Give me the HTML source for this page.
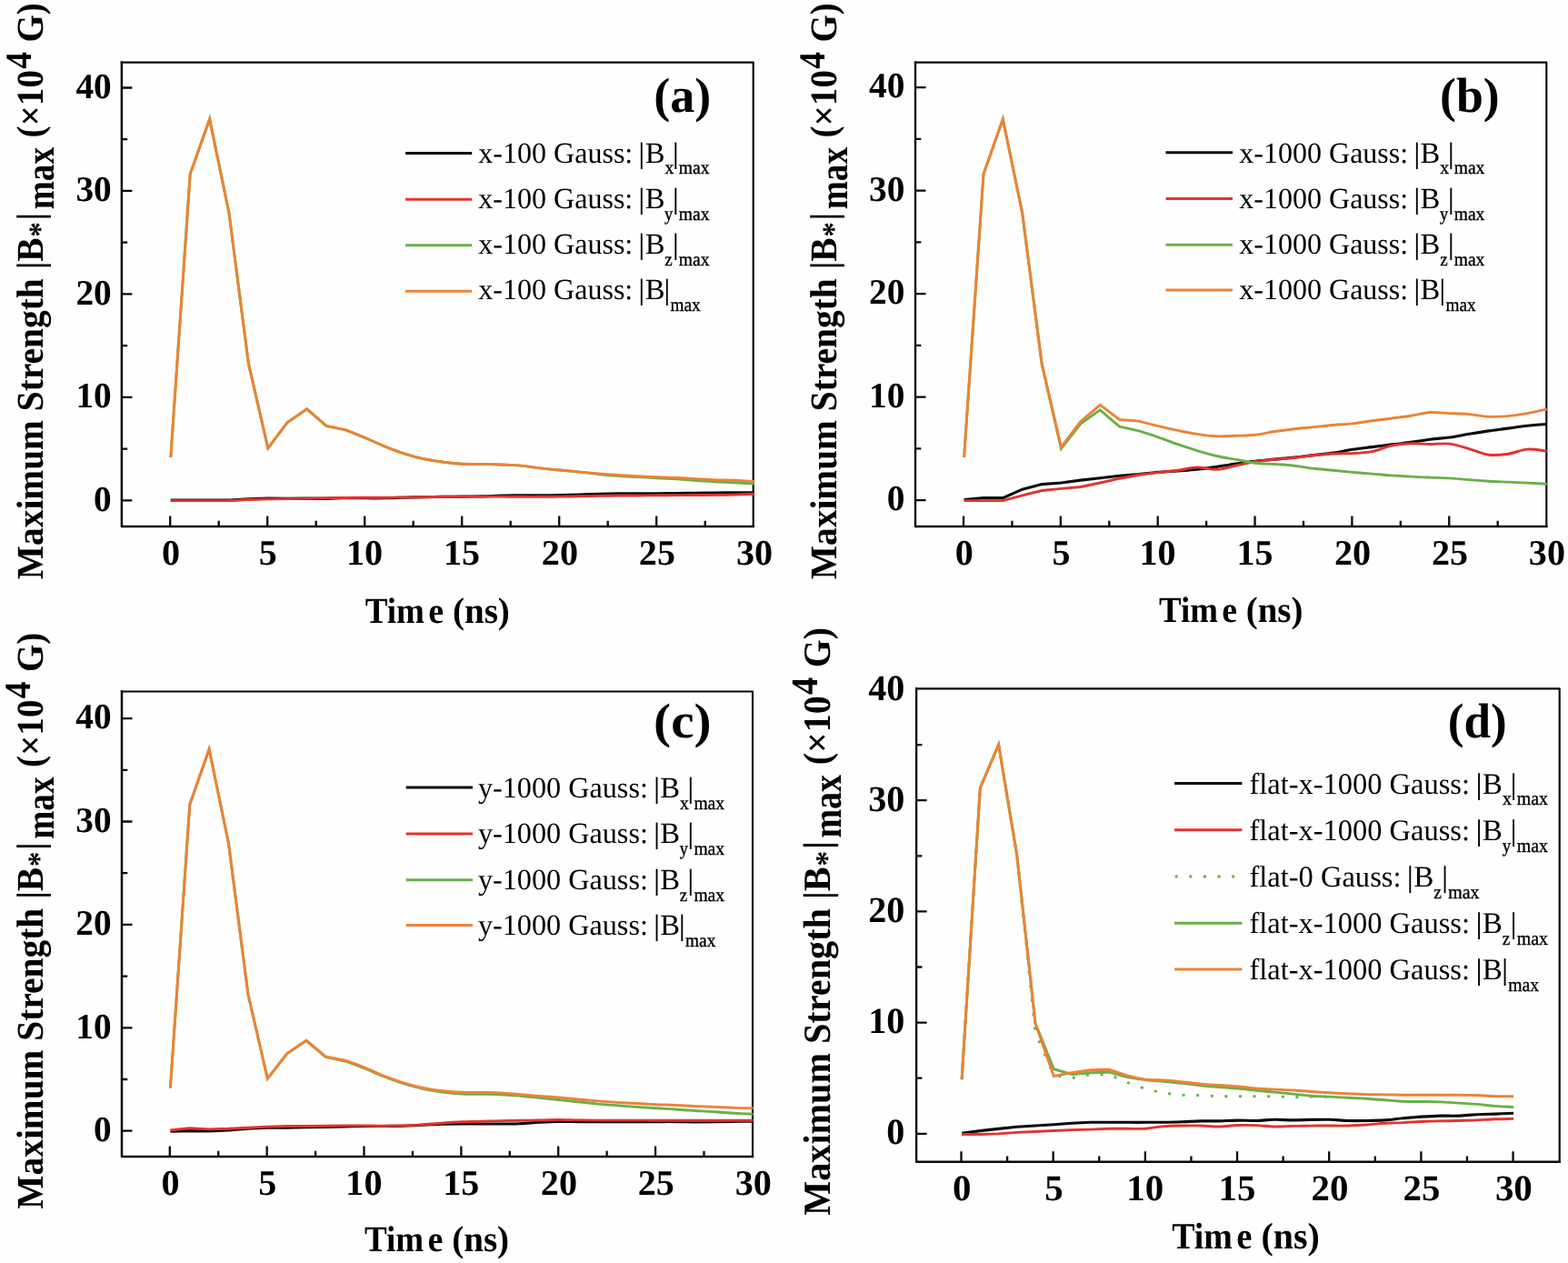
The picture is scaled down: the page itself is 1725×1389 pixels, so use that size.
<!DOCTYPE html>
<html lang="en"><head><meta charset="utf-8">
<title>Maximum magnetic field strength vs time</title>
<style>html,body{margin:0;padding:0;background:#fefefe;overflow:hidden}body{width:1725px;height:1389px}svg text{white-space:pre}</style>
</head><body>
<svg width="1725" height="1389" viewBox="0 0 1725 1389" style="display:block;filter:blur(0.45px)" text-rendering="geometricPrecision">
<rect width="1725" height="1389" fill="#fefefe"/>
<g id="panel-a">
<path d="M133.90,68.60H828.70V579.00" fill="none" stroke="#0a0a0a" stroke-width="2.15" stroke-linejoin="round" stroke-linecap="square"/>
<path d="M133.90,68.60V579.00H828.70" fill="none" stroke="#0a0a0a" stroke-width="2.5" stroke-linejoin="round" stroke-linecap="square"/>
<path d="M187.20,579.00v-11.5M294.20,579.00v-11.5M401.20,579.00v-11.5M508.20,579.00v-11.5M615.20,579.00v-11.5M722.20,579.00v-11.5M240.70,579.00v-6.3M347.70,579.00v-6.3M454.70,579.00v-6.3M561.70,579.00v-6.3M668.70,579.00v-6.3M775.70,579.00v-6.3M133.90,550.30h11.5M133.90,436.85h11.5M133.90,323.40h11.5M133.90,209.95h11.5M133.90,96.50h11.5M133.90,493.57h6.3M133.90,380.12h6.3M133.90,266.67h6.3M133.90,153.22h6.3" fill="none" stroke="#0a0a0a" stroke-width="2.3"/>
<path d="M187.8,550.1L209.2,550.1L230.6,550.1L252.0,550.1L273.4,548.9L294.8,548.1L316.2,548.4L337.6,548.1L359.0,548.4L380.4,547.5C380.4,547.5 394.7,547.7 401.8,547.8C408.9,547.9 416.1,547.9 423.2,547.8C430.3,547.7 437.5,547.4 444.6,547.2C451.7,547.0 458.9,546.8 466.0,546.7C473.1,546.5 480.3,546.4 487.4,546.3C494.5,546.2 501.7,546.2 508.8,546.1C515.9,546.0 523.1,546.1 530.2,545.9C537.3,545.7 544.5,545.2 551.6,545.0C558.7,544.8 565.9,544.8 573.0,544.7C580.1,544.7 587.3,544.8 594.4,544.7C601.5,544.7 608.7,544.7 615.8,544.6C622.9,544.5 630.1,544.3 637.2,544.1C644.3,543.8 651.5,543.5 658.6,543.3C665.7,543.1 672.9,543.0 680.0,542.9C687.1,542.8 694.3,542.7 701.4,542.7C708.5,542.7 715.7,542.7 722.8,542.7C729.9,542.7 737.1,542.6 744.2,542.5C751.3,542.4 758.5,542.3 765.6,542.2C772.7,542.2 779.9,542.1 787.0,542.0C794.1,541.9 801.3,541.8 808.4,541.8C815.5,541.8 826.2,541.8 829.8,541.8" fill="none" stroke="#0a0a0a" stroke-width="3.1" stroke-linejoin="miter" stroke-miterlimit="6" stroke-linecap="butt"/>
<path d="M187.8,550.6L209.2,550.6L230.6,550.6L252.0,550.6L273.4,549.5L294.8,548.9L316.2,548.6L337.6,548.4L359.0,547.8L380.4,547.5C380.4,547.5 394.7,547.3 401.8,547.2C408.9,547.2 416.1,547.3 423.2,547.2C430.3,547.2 437.5,547.1 444.6,547.0C451.7,546.9 458.9,546.8 466.0,546.7C473.1,546.6 480.3,546.4 487.4,546.3C494.5,546.2 501.7,546.1 508.8,546.1C515.9,546.1 523.1,546.1 530.2,546.1C537.3,546.1 544.5,546.1 551.6,546.1C558.7,546.1 565.9,546.3 573.0,546.3C580.1,546.4 587.3,546.4 594.4,546.3C601.5,546.3 608.7,546.2 615.8,546.1C622.9,546.0 630.1,545.9 637.2,545.8C644.3,545.6 651.5,545.6 658.6,545.4C665.7,545.3 672.9,545.0 680.0,545.0C687.1,544.9 694.3,545.0 701.4,545.0C708.5,544.9 715.7,544.8 722.8,544.7C729.9,544.7 737.1,544.7 744.2,544.6C751.3,544.6 758.5,544.6 765.6,544.5C772.7,544.5 779.9,544.5 787.0,544.4C794.1,544.3 801.3,544.3 808.4,544.1C815.5,543.9 826.2,543.4 829.8,543.3" fill="none" stroke="#e4322f" stroke-width="2.9" stroke-linejoin="miter" stroke-miterlimit="6" stroke-linecap="butt"/>
<path d="M187.8,503.0L209.2,191.5L230.6,130.9L252.0,234.5L273.4,399.9L294.8,492.9L316.2,464.5L337.6,449.8L359.0,468.3L380.4,472.8C380.4,472.8 394.7,478.5 401.8,481.5C408.9,484.5 416.1,488.0 423.2,490.9C430.3,493.8 437.5,496.6 444.6,498.9C451.7,501.2 458.9,503.2 466.0,504.7C473.1,506.3 480.3,507.2 487.4,508.1C494.5,509.1 501.7,509.9 508.8,510.3C515.9,510.7 523.1,510.3 530.2,510.4C537.3,510.5 544.5,510.7 551.6,511.0C558.7,511.3 565.9,511.5 573.0,512.1C580.1,512.8 587.3,514.1 594.4,514.9C601.5,515.8 608.7,516.3 615.8,517.0C622.9,517.7 630.1,518.4 637.2,519.1C644.3,519.9 651.5,520.8 658.6,521.5C665.7,522.2 672.9,522.9 680.0,523.4C687.1,524.0 694.3,524.2 701.4,524.6C708.5,525.0 715.7,525.3 722.8,525.7C729.9,526.1 737.1,526.4 744.2,526.8C751.3,527.3 758.5,528.1 765.6,528.5C772.7,529.0 779.9,529.3 787.0,529.7C794.1,530.1 801.3,530.4 808.4,530.8C815.5,531.2 826.2,531.7 829.8,531.9" fill="none" stroke="#69b047" stroke-width="2.9" stroke-linejoin="miter" stroke-miterlimit="6" stroke-linecap="butt"/>
<path d="M187.8,503.0L209.2,191.5L230.6,130.9L252.0,234.5L273.4,399.9L294.8,492.9L316.2,464.5L337.6,449.8L359.0,468.3L380.4,472.8C380.4,472.8 394.7,478.5 401.8,481.5C408.9,484.5 416.1,488.0 423.2,490.9C430.3,493.8 437.5,496.6 444.6,498.9C451.7,501.2 458.9,503.2 466.0,504.7C473.1,506.3 480.3,507.2 487.4,508.1C494.5,509.1 501.7,509.9 508.8,510.3C515.9,510.7 523.1,510.3 530.2,510.4C537.3,510.5 544.5,510.7 551.6,511.0C558.7,511.3 565.9,511.5 573.0,512.1C580.1,512.8 587.3,514.1 594.4,514.9C601.5,515.8 608.7,516.3 615.8,517.0C622.9,517.6 630.1,518.2 637.2,518.9C644.3,519.6 651.5,520.3 658.6,520.9C665.7,521.6 672.9,522.1 680.0,522.5C687.1,523.0 694.3,523.3 701.4,523.7C708.5,524.0 715.7,524.3 722.8,524.6C729.9,524.9 737.1,525.1 744.2,525.5C751.3,525.8 758.5,526.2 765.6,526.6C772.7,527.0 779.9,527.5 787.0,527.7C794.1,528.0 801.3,528.0 808.4,528.3C815.5,528.6 826.2,529.3 829.8,529.4" fill="none" stroke="#ec8336" stroke-width="2.9" stroke-linejoin="miter" stroke-miterlimit="6" stroke-linecap="butt"/>
<text x="177.98" y="620.80" font-size="39.3" font-family='"Liberation Serif", serif' font-weight="bold" fill="#000" textLength="20.04" lengthAdjust="spacingAndGlyphs">0</text>
<text x="284.88" y="620.80" font-size="39.3" font-family='"Liberation Serif", serif' font-weight="bold" fill="#000" textLength="20.04" lengthAdjust="spacingAndGlyphs">5</text>
<text x="381.06" y="620.80" font-size="39.3" font-family='"Liberation Serif", serif' font-weight="bold" fill="#000" textLength="40.09" lengthAdjust="spacingAndGlyphs">10</text>
<text x="488.06" y="620.80" font-size="39.3" font-family='"Liberation Serif", serif' font-weight="bold" fill="#000" textLength="40.09" lengthAdjust="spacingAndGlyphs">15</text>
<text x="595.86" y="620.80" font-size="39.3" font-family='"Liberation Serif", serif' font-weight="bold" fill="#000" textLength="40.09" lengthAdjust="spacingAndGlyphs">20</text>
<text x="702.86" y="620.80" font-size="39.3" font-family='"Liberation Serif", serif' font-weight="bold" fill="#000" textLength="40.09" lengthAdjust="spacingAndGlyphs">25</text>
<text x="809.96" y="620.80" font-size="39.3" font-family='"Liberation Serif", serif' font-weight="bold" fill="#000" textLength="40.09" lengthAdjust="spacingAndGlyphs">30</text>
<text x="103.03" y="561.50" font-size="39.3" font-family='"Liberation Serif", serif' font-weight="bold" fill="#000" textLength="19.65" lengthAdjust="spacingAndGlyphs">0</text>
<text x="83.38" y="448.05" font-size="39.3" font-family='"Liberation Serif", serif' font-weight="bold" fill="#000" textLength="39.30" lengthAdjust="spacingAndGlyphs">10</text>
<text x="83.38" y="334.60" font-size="39.3" font-family='"Liberation Serif", serif' font-weight="bold" fill="#000" textLength="39.30" lengthAdjust="spacingAndGlyphs">20</text>
<text x="83.38" y="221.15" font-size="39.3" font-family='"Liberation Serif", serif' font-weight="bold" fill="#000" textLength="39.30" lengthAdjust="spacingAndGlyphs">30</text>
<text x="83.38" y="107.70" font-size="39.3" font-family='"Liberation Serif", serif' font-weight="bold" fill="#000" textLength="39.30" lengthAdjust="spacingAndGlyphs">40</text>
<text x="401.74" y="684.50" font-size="40" font-family='"Liberation Serif", serif' font-weight="bold" fill="#000" textLength="65.20" lengthAdjust="spacingAndGlyphs">Tim</text>
<text x="471.25" y="684.50" font-size="40" font-family='"Liberation Serif", serif' font-weight="bold" fill="#000" textLength="16.86" lengthAdjust="spacingAndGlyphs">e</text>
<text x="497.94" y="684.50" font-size="40" font-family='"Liberation Serif", serif' font-weight="bold" fill="#000" textLength="62.88" lengthAdjust="spacingAndGlyphs">(ns)</text>
<g transform="translate(47.40,637.00) rotate(-90)">
<text x="-0.19" y="0.00" font-size="41.5" font-family='"Liberation Serif", serif' font-weight="bold" fill="#000" textLength="375.79" lengthAdjust="spacingAndGlyphs">Maximum Strength |B</text>
<text x="376.17" y="7.40" font-size="34.0" font-family='"Liberation Serif", serif' font-weight="bold" fill="#000" textLength="16.67" lengthAdjust="spacingAndGlyphs">*</text>
<text x="394.50" y="0.00" font-size="41.5" font-family='"Liberation Serif", serif' font-weight="bold" fill="#000" textLength="8.81" lengthAdjust="spacingAndGlyphs">|</text>
<text x="406.77" y="11.80" font-size="44.0" font-family='"Liberation Serif", serif' font-weight="bold" fill="#000" textLength="68.35" lengthAdjust="spacingAndGlyphs">max</text>
<text x="485.43" y="0.00" font-size="41.5" font-family='"Liberation Serif", serif' font-weight="bold" fill="#000" textLength="74.56" lengthAdjust="spacingAndGlyphs">(×10</text>
<text x="561.33" y="-13.80" font-size="40.5" font-family='"Liberation Serif", serif' font-weight="bold" fill="#000" textLength="18.74" lengthAdjust="spacingAndGlyphs">4</text>
<text x="590.55" y="0.00" font-size="41.5" font-family='"Liberation Serif", serif' font-weight="bold" fill="#000" textLength="43.13" lengthAdjust="spacingAndGlyphs">G)</text>
</g>
<text x="719.24" y="123.30" font-size="54" font-family='"Liberation Serif", serif' font-weight="bold" fill="#000" textLength="62.98" lengthAdjust="spacingAndGlyphs">(a)</text>
<line x1="446.1" y1="168.6" x2="519.2" y2="168.6" stroke="#0a0a0a" stroke-width="3"/>
<text x="526.34" y="178.60" font-size="32.3" font-family='"Liberation Serif", serif' font-weight="normal" fill="#000" textLength="169.93" lengthAdjust="spacingAndGlyphs">x-100 Gauss:</text>
<text x="702.10" y="178.60" font-size="32.3" font-family='"Liberation Serif", serif' font-weight="normal" fill="#000" textLength="7.61" lengthAdjust="spacingAndGlyphs">|</text>
<text x="709.68" y="178.60" font-size="32.3" font-family='"Liberation Serif", serif' font-weight="normal" fill="#000" textLength="21.75" lengthAdjust="spacingAndGlyphs">B</text>
<text x="731.40" y="191.30" font-size="20.8" font-family='"Liberation Serif", serif' font-weight="normal" fill="#000" textLength="9.79" lengthAdjust="spacingAndGlyphs" stroke="#000" stroke-width="0.35">x</text>
<text x="739.50" y="178.60" font-size="32.3" font-family='"Liberation Serif", serif' font-weight="normal" fill="#000" textLength="7.61" lengthAdjust="spacingAndGlyphs">|</text>
<text x="746.81" y="191.30" font-size="20.8" font-family='"Liberation Serif", serif' font-weight="normal" fill="#000" textLength="33.62" lengthAdjust="spacingAndGlyphs" stroke="#000" stroke-width="0.35">max</text>
<line x1="446.1" y1="219.2" x2="519.2" y2="219.2" stroke="#e4322f" stroke-width="3"/>
<text x="526.34" y="228.80" font-size="32.3" font-family='"Liberation Serif", serif' font-weight="normal" fill="#000" textLength="169.93" lengthAdjust="spacingAndGlyphs">x-100 Gauss:</text>
<text x="702.10" y="228.80" font-size="32.3" font-family='"Liberation Serif", serif' font-weight="normal" fill="#000" textLength="7.61" lengthAdjust="spacingAndGlyphs">|</text>
<text x="709.68" y="228.80" font-size="32.3" font-family='"Liberation Serif", serif' font-weight="normal" fill="#000" textLength="21.75" lengthAdjust="spacingAndGlyphs">B</text>
<text x="731.12" y="241.50" font-size="20.8" font-family='"Liberation Serif", serif' font-weight="normal" fill="#000" textLength="9.18" lengthAdjust="spacingAndGlyphs" stroke="#000" stroke-width="0.35">y</text>
<text x="739.50" y="228.80" font-size="32.3" font-family='"Liberation Serif", serif' font-weight="normal" fill="#000" textLength="7.61" lengthAdjust="spacingAndGlyphs">|</text>
<text x="746.81" y="241.50" font-size="20.8" font-family='"Liberation Serif", serif' font-weight="normal" fill="#000" textLength="33.62" lengthAdjust="spacingAndGlyphs" stroke="#000" stroke-width="0.35">max</text>
<line x1="446.1" y1="269.8" x2="519.2" y2="269.8" stroke="#69b047" stroke-width="3"/>
<text x="526.34" y="279.00" font-size="32.3" font-family='"Liberation Serif", serif' font-weight="normal" fill="#000" textLength="169.93" lengthAdjust="spacingAndGlyphs">x-100 Gauss:</text>
<text x="702.10" y="279.00" font-size="32.3" font-family='"Liberation Serif", serif' font-weight="normal" fill="#000" textLength="7.61" lengthAdjust="spacingAndGlyphs">|</text>
<text x="709.68" y="279.00" font-size="32.3" font-family='"Liberation Serif", serif' font-weight="normal" fill="#000" textLength="21.75" lengthAdjust="spacingAndGlyphs">B</text>
<text x="731.23" y="291.70" font-size="20.8" font-family='"Liberation Serif", serif' font-weight="normal" fill="#000" textLength="8.43" lengthAdjust="spacingAndGlyphs" stroke="#000" stroke-width="0.35">z</text>
<text x="739.50" y="279.00" font-size="32.3" font-family='"Liberation Serif", serif' font-weight="normal" fill="#000" textLength="7.61" lengthAdjust="spacingAndGlyphs">|</text>
<text x="746.81" y="291.70" font-size="20.8" font-family='"Liberation Serif", serif' font-weight="normal" fill="#000" textLength="33.62" lengthAdjust="spacingAndGlyphs" stroke="#000" stroke-width="0.35">max</text>
<line x1="446.1" y1="320.2" x2="519.2" y2="320.2" stroke="#ec8336" stroke-width="3"/>
<text x="526.34" y="329.20" font-size="32.3" font-family='"Liberation Serif", serif' font-weight="normal" fill="#000" textLength="169.93" lengthAdjust="spacingAndGlyphs">x-100 Gauss:</text>
<text x="702.10" y="329.20" font-size="32.3" font-family='"Liberation Serif", serif' font-weight="normal" fill="#000" textLength="7.61" lengthAdjust="spacingAndGlyphs">|</text>
<text x="709.68" y="329.20" font-size="32.3" font-family='"Liberation Serif", serif' font-weight="normal" fill="#000" textLength="21.75" lengthAdjust="spacingAndGlyphs">B</text>
<text x="730.00" y="329.20" font-size="32.3" font-family='"Liberation Serif", serif' font-weight="normal" fill="#000" textLength="7.61" lengthAdjust="spacingAndGlyphs">|</text>
<text x="737.51" y="341.90" font-size="20.8" font-family='"Liberation Serif", serif' font-weight="normal" fill="#000" textLength="33.21" lengthAdjust="spacingAndGlyphs" stroke="#000" stroke-width="0.35">max</text>
</g>
<g id="panel-b">
<path d="M1007.00,68.60H1701.30V579.00" fill="none" stroke="#0a0a0a" stroke-width="2.15" stroke-linejoin="round" stroke-linecap="square"/>
<path d="M1007.00,68.60V579.00H1701.30" fill="none" stroke="#0a0a0a" stroke-width="2.4" stroke-linejoin="round" stroke-linecap="square"/>
<path d="M1060.00,579.00v-11.5M1166.85,579.00v-11.5M1273.70,579.00v-11.5M1380.55,579.00v-11.5M1487.40,579.00v-11.5M1594.25,579.00v-11.5M1113.42,579.00v-6.3M1220.28,579.00v-6.3M1327.12,579.00v-6.3M1433.97,579.00v-6.3M1540.83,579.00v-6.3M1647.68,579.00v-6.3M1007.00,550.20h11.5M1007.00,436.70h11.5M1007.00,323.20h11.5M1007.00,209.70h11.5M1007.00,96.20h11.5M1007.00,493.45h6.3M1007.00,379.95h6.3M1007.00,266.45h6.3M1007.00,152.95h6.3" fill="none" stroke="#0a0a0a" stroke-width="2.3"/>
<path d="M1060.6,549.5L1082.0,547.6L1103.3,547.6L1124.7,538.2L1146.1,532.6L1167.4,531.0L1188.8,528.1L1210.2,525.7L1231.6,523.2L1252.9,521.6C1252.9,521.6 1267.2,519.9 1274.3,519.2C1281.4,518.6 1288.5,518.4 1295.7,517.9C1302.8,517.4 1309.9,517.1 1317.0,516.3C1324.2,515.5 1331.3,514.4 1338.4,513.4C1345.5,512.3 1352.7,511.0 1359.8,510.0C1366.9,508.9 1374.0,508.1 1381.1,507.2C1388.3,506.4 1395.4,505.8 1402.5,505.1C1409.6,504.4 1416.8,503.8 1423.9,503.0C1431.0,502.3 1438.1,501.4 1445.3,500.6C1452.4,499.7 1459.5,499.1 1466.6,498.1C1473.8,497.0 1480.9,495.4 1488.0,494.3C1495.1,493.2 1502.2,492.5 1509.4,491.6C1516.5,490.7 1523.6,489.8 1530.7,488.9C1537.9,488.0 1545.0,487.3 1552.1,486.4C1559.2,485.4 1566.4,484.1 1573.5,483.2C1580.6,482.3 1587.7,481.9 1594.8,481.0C1602.0,480.0 1609.1,478.5 1616.2,477.3C1623.3,476.2 1630.5,475.0 1637.6,473.9C1644.7,472.9 1651.8,472.1 1659.0,471.1C1666.1,470.1 1673.2,468.9 1680.3,468.2C1687.5,467.4 1698.1,466.7 1701.7,466.5" fill="none" stroke="#0a0a0a" stroke-width="3.1" stroke-linejoin="miter" stroke-miterlimit="6" stroke-linecap="butt"/>
<path d="M1060.6,550.6L1082.0,550.6L1103.3,550.6L1124.7,544.9L1146.1,539.5L1167.4,537.4L1188.8,535.5L1210.2,531.0L1231.6,526.2L1252.9,522.2C1252.9,522.2 1267.2,520.4 1274.3,519.6C1281.4,518.8 1288.5,518.3 1295.7,517.3C1302.8,516.4 1309.9,514.1 1317.0,513.9C1324.2,513.8 1331.3,516.6 1338.4,516.3C1345.5,516.0 1352.7,513.5 1359.8,512.0C1366.9,510.5 1374.0,508.7 1381.1,507.6C1388.3,506.5 1395.4,506.0 1402.5,505.3C1409.6,504.6 1416.8,504.3 1423.9,503.5C1431.0,502.7 1438.1,501.5 1445.3,500.8C1452.4,500.0 1459.5,499.3 1466.6,499.0C1473.8,498.6 1480.9,499.0 1488.0,498.6C1495.1,498.3 1502.2,498.1 1509.4,496.7C1516.5,495.3 1523.6,491.6 1530.7,490.1C1537.9,488.6 1545.0,488.0 1552.1,487.8C1559.2,487.5 1566.4,488.5 1573.5,488.5C1580.6,488.6 1587.7,487.2 1594.8,488.1C1602.0,488.9 1609.1,491.6 1616.2,493.6C1623.3,495.7 1630.5,499.3 1637.6,500.2C1644.7,501.1 1651.8,500.2 1659.0,499.2C1666.1,498.2 1673.2,494.6 1680.3,494.1C1687.5,493.6 1698.1,495.8 1701.7,496.1" fill="none" stroke="#e4322f" stroke-width="2.9" stroke-linejoin="miter" stroke-miterlimit="6" stroke-linecap="butt"/>
<path d="M1060.6,503.0L1082.0,191.5L1103.3,130.9L1124.7,234.5L1146.1,399.9L1167.4,493.4L1188.8,466.0L1210.2,450.9L1231.6,469.1L1252.9,473.9C1252.9,473.9 1267.2,478.4 1274.3,480.8C1281.4,483.3 1288.5,486.2 1295.7,488.7C1302.8,491.1 1309.9,493.4 1317.0,495.6C1324.2,497.7 1331.3,499.8 1338.4,501.5C1345.5,503.1 1352.7,504.1 1359.8,505.4C1366.9,506.7 1374.0,508.4 1381.1,509.3C1388.3,510.1 1395.4,510.0 1402.5,510.5C1409.6,511.0 1416.8,511.4 1423.9,512.2C1431.0,513.0 1438.1,514.4 1445.3,515.3C1452.4,516.1 1459.5,516.6 1466.6,517.3C1473.8,518.0 1480.9,518.7 1488.0,519.4C1495.1,520.0 1502.2,520.5 1509.4,521.1C1516.5,521.6 1523.6,522.4 1530.7,522.9C1537.9,523.4 1545.0,523.7 1552.1,524.1C1559.2,524.5 1566.4,524.8 1573.5,525.1C1580.6,525.4 1587.7,525.5 1594.8,525.9C1602.0,526.3 1609.1,527.1 1616.2,527.6C1623.3,528.2 1630.5,528.8 1637.6,529.2C1644.7,529.6 1651.8,529.8 1659.0,530.1C1666.1,530.4 1673.2,530.8 1680.3,531.1C1687.5,531.5 1698.1,532.1 1701.7,532.3" fill="none" stroke="#69b047" stroke-width="2.9" stroke-linejoin="miter" stroke-miterlimit="6" stroke-linecap="butt"/>
<path d="M1060.6,503.0L1082.0,191.5L1103.3,130.9L1124.7,234.5L1146.1,399.9L1167.4,491.7L1188.8,463.4L1210.2,445.3L1231.6,461.5L1252.9,463.1C1252.9,463.1 1267.2,466.9 1274.3,468.6C1281.4,470.3 1288.5,471.9 1295.7,473.4C1302.8,474.8 1309.9,476.4 1317.0,477.4C1324.2,478.5 1331.3,479.5 1338.4,479.8C1345.5,480.1 1352.7,479.5 1359.8,479.3C1366.9,479.0 1374.0,479.0 1381.1,478.2C1388.3,477.4 1395.4,475.6 1402.5,474.5C1409.6,473.4 1416.8,472.5 1423.9,471.7C1431.0,470.9 1438.1,470.3 1445.3,469.6C1452.4,468.9 1459.5,468.1 1466.6,467.5C1473.8,466.8 1480.9,466.7 1488.0,465.9C1495.1,465.1 1502.2,463.8 1509.4,462.8C1516.5,461.9 1523.6,461.0 1530.7,460.1C1537.9,459.2 1545.0,458.4 1552.1,457.3C1559.2,456.2 1566.4,454.0 1573.5,453.5C1580.6,453.1 1587.7,454.2 1594.8,454.6C1602.0,454.9 1609.1,455.0 1616.2,455.6C1623.3,456.2 1630.5,458.0 1637.6,458.3C1644.7,458.6 1651.8,458.2 1659.0,457.6C1666.1,457.0 1673.2,455.8 1680.3,454.6C1687.5,453.3 1698.1,450.8 1701.7,450.0" fill="none" stroke="#ec8336" stroke-width="2.9" stroke-linejoin="miter" stroke-miterlimit="6" stroke-linecap="butt"/>
<text x="1050.78" y="620.70" font-size="39.3" font-family='"Liberation Serif", serif' font-weight="bold" fill="#000" textLength="20.04" lengthAdjust="spacingAndGlyphs">0</text>
<text x="1157.53" y="620.70" font-size="39.3" font-family='"Liberation Serif", serif' font-weight="bold" fill="#000" textLength="20.04" lengthAdjust="spacingAndGlyphs">5</text>
<text x="1253.56" y="620.70" font-size="39.3" font-family='"Liberation Serif", serif' font-weight="bold" fill="#000" textLength="40.09" lengthAdjust="spacingAndGlyphs">10</text>
<text x="1360.41" y="620.70" font-size="39.3" font-family='"Liberation Serif", serif' font-weight="bold" fill="#000" textLength="40.09" lengthAdjust="spacingAndGlyphs">15</text>
<text x="1468.06" y="620.70" font-size="39.3" font-family='"Liberation Serif", serif' font-weight="bold" fill="#000" textLength="40.09" lengthAdjust="spacingAndGlyphs">20</text>
<text x="1574.91" y="620.70" font-size="39.3" font-family='"Liberation Serif", serif' font-weight="bold" fill="#000" textLength="40.09" lengthAdjust="spacingAndGlyphs">25</text>
<text x="1681.86" y="620.70" font-size="39.3" font-family='"Liberation Serif", serif' font-weight="bold" fill="#000" textLength="40.09" lengthAdjust="spacingAndGlyphs">30</text>
<text x="975.73" y="561.40" font-size="39.3" font-family='"Liberation Serif", serif' font-weight="bold" fill="#000" textLength="19.65" lengthAdjust="spacingAndGlyphs">0</text>
<text x="956.08" y="447.90" font-size="39.3" font-family='"Liberation Serif", serif' font-weight="bold" fill="#000" textLength="39.30" lengthAdjust="spacingAndGlyphs">10</text>
<text x="956.08" y="334.40" font-size="39.3" font-family='"Liberation Serif", serif' font-weight="bold" fill="#000" textLength="39.30" lengthAdjust="spacingAndGlyphs">20</text>
<text x="956.08" y="220.90" font-size="39.3" font-family='"Liberation Serif", serif' font-weight="bold" fill="#000" textLength="39.30" lengthAdjust="spacingAndGlyphs">30</text>
<text x="956.08" y="107.40" font-size="39.3" font-family='"Liberation Serif", serif' font-weight="bold" fill="#000" textLength="39.30" lengthAdjust="spacingAndGlyphs">40</text>
<text x="1275.05" y="684.40" font-size="40" font-family='"Liberation Serif", serif' font-weight="bold" fill="#000" textLength="64.91" lengthAdjust="spacingAndGlyphs">Tim</text>
<text x="1344.24" y="684.40" font-size="40" font-family='"Liberation Serif", serif' font-weight="bold" fill="#000" textLength="16.78" lengthAdjust="spacingAndGlyphs">e</text>
<text x="1370.81" y="684.40" font-size="40" font-family='"Liberation Serif", serif' font-weight="bold" fill="#000" textLength="62.60" lengthAdjust="spacingAndGlyphs">(ns)</text>
<g transform="translate(920.30,637.00) rotate(-90)">
<text x="-0.19" y="0.00" font-size="41.5" font-family='"Liberation Serif", serif' font-weight="bold" fill="#000" textLength="375.79" lengthAdjust="spacingAndGlyphs">Maximum Strength |B</text>
<text x="376.17" y="7.40" font-size="34.0" font-family='"Liberation Serif", serif' font-weight="bold" fill="#000" textLength="16.67" lengthAdjust="spacingAndGlyphs">*</text>
<text x="394.50" y="0.00" font-size="41.5" font-family='"Liberation Serif", serif' font-weight="bold" fill="#000" textLength="8.81" lengthAdjust="spacingAndGlyphs">|</text>
<text x="406.77" y="11.80" font-size="44.0" font-family='"Liberation Serif", serif' font-weight="bold" fill="#000" textLength="68.35" lengthAdjust="spacingAndGlyphs">max</text>
<text x="485.43" y="0.00" font-size="41.5" font-family='"Liberation Serif", serif' font-weight="bold" fill="#000" textLength="74.56" lengthAdjust="spacingAndGlyphs">(×10</text>
<text x="561.33" y="-13.80" font-size="40.5" font-family='"Liberation Serif", serif' font-weight="bold" fill="#000" textLength="18.74" lengthAdjust="spacingAndGlyphs">4</text>
<text x="590.55" y="0.00" font-size="41.5" font-family='"Liberation Serif", serif' font-weight="bold" fill="#000" textLength="43.13" lengthAdjust="spacingAndGlyphs">G)</text>
</g>
<text x="1584.05" y="123.20" font-size="54" font-family='"Liberation Serif", serif' font-weight="bold" fill="#000" textLength="65.72" lengthAdjust="spacingAndGlyphs">(b)</text>
<line x1="1282.5" y1="167.8" x2="1356.0" y2="167.8" stroke="#0a0a0a" stroke-width="3"/>
<text x="1363.34" y="178.70" font-size="32.3" font-family='"Liberation Serif", serif' font-weight="normal" fill="#000" textLength="185.83" lengthAdjust="spacingAndGlyphs">x-1000 Gauss:</text>
<text x="1555.00" y="178.70" font-size="32.3" font-family='"Liberation Serif", serif' font-weight="normal" fill="#000" textLength="7.61" lengthAdjust="spacingAndGlyphs">|</text>
<text x="1562.58" y="178.70" font-size="32.3" font-family='"Liberation Serif", serif' font-weight="normal" fill="#000" textLength="21.75" lengthAdjust="spacingAndGlyphs">B</text>
<text x="1584.30" y="191.40" font-size="20.8" font-family='"Liberation Serif", serif' font-weight="normal" fill="#000" textLength="9.79" lengthAdjust="spacingAndGlyphs" stroke="#000" stroke-width="0.35">x</text>
<text x="1592.40" y="178.70" font-size="32.3" font-family='"Liberation Serif", serif' font-weight="normal" fill="#000" textLength="7.61" lengthAdjust="spacingAndGlyphs">|</text>
<text x="1599.71" y="191.40" font-size="20.8" font-family='"Liberation Serif", serif' font-weight="normal" fill="#000" textLength="33.62" lengthAdjust="spacingAndGlyphs" stroke="#000" stroke-width="0.35">max</text>
<line x1="1282.5" y1="218.5" x2="1356.0" y2="218.5" stroke="#e4322f" stroke-width="3"/>
<text x="1363.34" y="228.80" font-size="32.3" font-family='"Liberation Serif", serif' font-weight="normal" fill="#000" textLength="185.83" lengthAdjust="spacingAndGlyphs">x-1000 Gauss:</text>
<text x="1555.00" y="228.80" font-size="32.3" font-family='"Liberation Serif", serif' font-weight="normal" fill="#000" textLength="7.61" lengthAdjust="spacingAndGlyphs">|</text>
<text x="1562.58" y="228.80" font-size="32.3" font-family='"Liberation Serif", serif' font-weight="normal" fill="#000" textLength="21.75" lengthAdjust="spacingAndGlyphs">B</text>
<text x="1584.02" y="241.50" font-size="20.8" font-family='"Liberation Serif", serif' font-weight="normal" fill="#000" textLength="9.18" lengthAdjust="spacingAndGlyphs" stroke="#000" stroke-width="0.35">y</text>
<text x="1592.40" y="228.80" font-size="32.3" font-family='"Liberation Serif", serif' font-weight="normal" fill="#000" textLength="7.61" lengthAdjust="spacingAndGlyphs">|</text>
<text x="1599.71" y="241.50" font-size="20.8" font-family='"Liberation Serif", serif' font-weight="normal" fill="#000" textLength="33.62" lengthAdjust="spacingAndGlyphs" stroke="#000" stroke-width="0.35">max</text>
<line x1="1282.5" y1="269.3" x2="1356.0" y2="269.3" stroke="#69b047" stroke-width="3"/>
<text x="1363.34" y="279.20" font-size="32.3" font-family='"Liberation Serif", serif' font-weight="normal" fill="#000" textLength="185.83" lengthAdjust="spacingAndGlyphs">x-1000 Gauss:</text>
<text x="1555.00" y="279.20" font-size="32.3" font-family='"Liberation Serif", serif' font-weight="normal" fill="#000" textLength="7.61" lengthAdjust="spacingAndGlyphs">|</text>
<text x="1562.58" y="279.20" font-size="32.3" font-family='"Liberation Serif", serif' font-weight="normal" fill="#000" textLength="21.75" lengthAdjust="spacingAndGlyphs">B</text>
<text x="1584.13" y="291.90" font-size="20.8" font-family='"Liberation Serif", serif' font-weight="normal" fill="#000" textLength="8.43" lengthAdjust="spacingAndGlyphs" stroke="#000" stroke-width="0.35">z</text>
<text x="1592.40" y="279.20" font-size="32.3" font-family='"Liberation Serif", serif' font-weight="normal" fill="#000" textLength="7.61" lengthAdjust="spacingAndGlyphs">|</text>
<text x="1599.71" y="291.90" font-size="20.8" font-family='"Liberation Serif", serif' font-weight="normal" fill="#000" textLength="33.62" lengthAdjust="spacingAndGlyphs" stroke="#000" stroke-width="0.35">max</text>
<line x1="1282.5" y1="318.9" x2="1356.0" y2="318.9" stroke="#ec8336" stroke-width="3"/>
<text x="1363.34" y="329.20" font-size="32.3" font-family='"Liberation Serif", serif' font-weight="normal" fill="#000" textLength="185.83" lengthAdjust="spacingAndGlyphs">x-1000 Gauss:</text>
<text x="1555.00" y="329.20" font-size="32.3" font-family='"Liberation Serif", serif' font-weight="normal" fill="#000" textLength="7.61" lengthAdjust="spacingAndGlyphs">|</text>
<text x="1562.58" y="329.20" font-size="32.3" font-family='"Liberation Serif", serif' font-weight="normal" fill="#000" textLength="21.75" lengthAdjust="spacingAndGlyphs">B</text>
<text x="1582.90" y="329.20" font-size="32.3" font-family='"Liberation Serif", serif' font-weight="normal" fill="#000" textLength="7.61" lengthAdjust="spacingAndGlyphs">|</text>
<text x="1590.41" y="341.90" font-size="20.8" font-family='"Liberation Serif", serif' font-weight="normal" fill="#000" textLength="33.21" lengthAdjust="spacingAndGlyphs" stroke="#000" stroke-width="0.35">max</text>
</g>
<g id="panel-c">
<path d="M134.00,760.50H828.00V1272.00" fill="none" stroke="#0a0a0a" stroke-width="2.15" stroke-linejoin="round" stroke-linecap="square"/>
<path d="M134.00,760.50V1272.00H828.00" fill="none" stroke="#0a0a0a" stroke-width="2.5" stroke-linejoin="round" stroke-linecap="square"/>
<path d="M186.80,1272.00v-11.5M293.65,1272.00v-11.5M400.50,1272.00v-11.5M507.35,1272.00v-11.5M614.20,1272.00v-11.5M721.05,1272.00v-11.5M240.23,1272.00v-6.3M347.08,1272.00v-6.3M453.93,1272.00v-6.3M560.78,1272.00v-6.3M667.62,1272.00v-6.3M774.48,1272.00v-6.3M134.00,1243.70h11.5M134.00,1130.30h11.5M134.00,1016.90h11.5M134.00,903.50h11.5M134.00,790.10h11.5M134.00,1187.00h6.3M134.00,1073.60h6.3M134.00,960.20h6.3M134.00,846.80h6.3" fill="none" stroke="#0a0a0a" stroke-width="2.3"/>
<path d="M187.4,1244.1L208.8,1243.6L230.1,1243.9L251.5,1243.0L272.9,1241.3L294.3,1240.2L315.6,1240.2L337.0,1239.8L358.4,1239.4L379.7,1238.9C379.7,1238.9 394.0,1238.5 401.1,1238.5C408.2,1238.4 415.3,1238.5 422.5,1238.5C429.6,1238.4 436.7,1238.4 443.8,1238.2C451.0,1238.0 458.1,1237.7 465.2,1237.3C472.3,1237.0 479.5,1236.4 486.6,1236.2C493.7,1236.0 500.8,1236.0 508.0,1236.0C515.1,1235.9 522.2,1236.0 529.3,1236.0C536.4,1236.0 543.6,1236.0 550.7,1236.0C557.8,1235.9 564.9,1236.0 572.1,1235.7C579.2,1235.4 586.3,1234.6 593.4,1234.2C600.6,1233.8 607.7,1233.4 614.8,1233.4C621.9,1233.3 629.0,1233.6 636.2,1233.7C643.3,1233.8 650.4,1233.7 657.5,1233.7C664.7,1233.7 671.8,1233.7 678.9,1233.7C686.0,1233.7 693.2,1233.6 700.3,1233.6C707.4,1233.6 714.5,1233.6 721.6,1233.6C728.8,1233.6 735.9,1233.5 743.0,1233.6C750.1,1233.6 757.3,1233.9 764.4,1233.9C771.5,1233.9 778.6,1233.8 785.8,1233.7C792.9,1233.6 800.0,1233.5 807.1,1233.4C814.3,1233.3 824.9,1233.2 828.5,1233.1" fill="none" stroke="#0a0a0a" stroke-width="3.1" stroke-linejoin="miter" stroke-miterlimit="6" stroke-linecap="butt"/>
<path d="M187.4,1243.0L208.8,1240.7L230.1,1241.9L251.5,1241.3L272.9,1240.2L294.3,1239.1L315.6,1238.5L337.0,1238.5L358.4,1238.2L379.7,1237.9C379.7,1237.9 394.0,1237.8 401.1,1237.9C408.2,1238.0 415.3,1238.2 422.5,1238.2C429.6,1238.2 436.7,1238.1 443.8,1237.9C451.0,1237.7 458.1,1237.2 465.2,1236.8C472.3,1236.3 479.5,1235.6 486.6,1235.1C493.7,1234.6 500.8,1234.1 508.0,1233.8C515.1,1233.5 522.2,1233.5 529.3,1233.2C536.4,1233.0 543.6,1232.7 550.7,1232.6C557.8,1232.4 564.9,1232.3 572.1,1232.2C579.2,1232.1 586.3,1232.1 593.4,1232.0C600.6,1231.9 607.7,1231.5 614.8,1231.4C621.9,1231.4 629.0,1231.8 636.2,1231.9C643.3,1232.0 650.4,1232.1 657.5,1232.1C664.7,1232.2 671.8,1232.1 678.9,1232.1C686.0,1232.1 693.2,1232.1 700.3,1232.1C707.4,1232.1 714.5,1232.2 721.6,1232.2C728.8,1232.2 735.9,1232.2 743.0,1232.2C750.1,1232.2 757.3,1232.2 764.4,1232.2C771.5,1232.2 778.6,1232.2 785.8,1232.2C792.9,1232.2 800.0,1232.2 807.1,1232.2C814.3,1232.2 824.9,1232.2 828.5,1232.2" fill="none" stroke="#e4322f" stroke-width="2.9" stroke-linejoin="miter" stroke-miterlimit="6" stroke-linecap="butt"/>
<path d="M187.4,1196.5L208.8,884.7L230.1,824.0L251.5,927.7L272.9,1093.3L294.3,1186.3L315.6,1158.9L337.0,1144.3L358.4,1162.3L379.7,1167.0C379.7,1167.0 394.0,1172.1 401.1,1175.0C408.2,1177.8 415.3,1181.2 422.5,1184.0C429.6,1186.8 436.7,1189.5 443.8,1191.7C451.0,1194.0 458.1,1195.9 465.2,1197.4C472.3,1199.0 479.5,1200.1 486.6,1201.0C493.7,1202.0 500.8,1202.7 508.0,1203.1C515.1,1203.5 522.2,1203.2 529.3,1203.3C536.4,1203.4 543.6,1203.3 550.7,1203.7C557.8,1204.0 564.9,1204.6 572.1,1205.2C579.2,1205.9 586.3,1206.7 593.4,1207.4C600.6,1208.1 607.7,1208.8 614.8,1209.5C621.9,1210.3 629.0,1211.1 636.2,1211.8C643.3,1212.6 650.4,1213.4 657.5,1214.1C664.7,1214.7 671.8,1215.2 678.9,1215.8C686.0,1216.3 693.2,1216.9 700.3,1217.4C707.4,1217.9 714.5,1218.3 721.6,1218.7C728.8,1219.2 735.9,1219.5 743.0,1220.0C750.1,1220.4 757.3,1221.0 764.4,1221.5C771.5,1221.9 778.6,1222.2 785.8,1222.7C792.9,1223.2 800.0,1223.7 807.1,1224.2C814.3,1224.6 824.9,1225.1 828.5,1225.3" fill="none" stroke="#69b047" stroke-width="2.9" stroke-linejoin="miter" stroke-miterlimit="6" stroke-linecap="butt"/>
<path d="M187.4,1196.5L208.8,884.7L230.1,824.0L251.5,927.7L272.9,1093.3L294.3,1186.3L315.6,1158.9L337.0,1144.3L358.4,1162.3L379.7,1166.2C379.7,1166.2 394.0,1171.2 401.1,1174.1C408.2,1176.9 415.3,1180.6 422.5,1183.4C429.6,1186.1 436.7,1188.7 443.8,1190.8C451.0,1193.0 458.1,1194.8 465.2,1196.3C472.3,1197.8 479.5,1198.8 486.6,1199.7C493.7,1200.5 500.8,1201.0 508.0,1201.3C515.1,1201.6 522.2,1201.4 529.3,1201.5C536.4,1201.6 543.6,1201.6 550.7,1201.9C557.8,1202.3 564.9,1203.1 572.1,1203.7C579.2,1204.2 586.3,1204.8 593.4,1205.4C600.6,1205.9 607.7,1206.3 614.8,1206.9C621.9,1207.5 629.0,1208.3 636.2,1209.0C643.3,1209.6 650.4,1210.3 657.5,1210.9C664.7,1211.5 671.8,1211.9 678.9,1212.4C686.0,1212.8 693.2,1213.1 700.3,1213.5C707.4,1213.9 714.5,1214.3 721.6,1214.7C728.8,1215.0 735.9,1215.1 743.0,1215.4C750.1,1215.7 757.3,1216.1 764.4,1216.5C771.5,1216.8 778.6,1217.1 785.8,1217.4C792.9,1217.7 800.0,1218.0 807.1,1218.3C814.3,1218.5 824.9,1218.8 828.5,1218.8" fill="none" stroke="#ec8336" stroke-width="2.9" stroke-linejoin="miter" stroke-miterlimit="6" stroke-linecap="butt"/>
<text x="177.58" y="1313.50" font-size="39.3" font-family='"Liberation Serif", serif' font-weight="bold" fill="#000" textLength="20.04" lengthAdjust="spacingAndGlyphs">0</text>
<text x="284.33" y="1313.50" font-size="39.3" font-family='"Liberation Serif", serif' font-weight="bold" fill="#000" textLength="20.04" lengthAdjust="spacingAndGlyphs">5</text>
<text x="380.36" y="1313.50" font-size="39.3" font-family='"Liberation Serif", serif' font-weight="bold" fill="#000" textLength="40.09" lengthAdjust="spacingAndGlyphs">10</text>
<text x="487.21" y="1313.50" font-size="39.3" font-family='"Liberation Serif", serif' font-weight="bold" fill="#000" textLength="40.09" lengthAdjust="spacingAndGlyphs">15</text>
<text x="594.86" y="1313.50" font-size="39.3" font-family='"Liberation Serif", serif' font-weight="bold" fill="#000" textLength="40.09" lengthAdjust="spacingAndGlyphs">20</text>
<text x="701.71" y="1313.50" font-size="39.3" font-family='"Liberation Serif", serif' font-weight="bold" fill="#000" textLength="40.09" lengthAdjust="spacingAndGlyphs">25</text>
<text x="808.66" y="1313.50" font-size="39.3" font-family='"Liberation Serif", serif' font-weight="bold" fill="#000" textLength="40.09" lengthAdjust="spacingAndGlyphs">30</text>
<text x="102.93" y="1255.00" font-size="39.3" font-family='"Liberation Serif", serif' font-weight="bold" fill="#000" textLength="19.65" lengthAdjust="spacingAndGlyphs">0</text>
<text x="83.28" y="1141.60" font-size="39.3" font-family='"Liberation Serif", serif' font-weight="bold" fill="#000" textLength="39.30" lengthAdjust="spacingAndGlyphs">10</text>
<text x="83.28" y="1028.20" font-size="39.3" font-family='"Liberation Serif", serif' font-weight="bold" fill="#000" textLength="39.30" lengthAdjust="spacingAndGlyphs">20</text>
<text x="83.28" y="914.80" font-size="39.3" font-family='"Liberation Serif", serif' font-weight="bold" fill="#000" textLength="39.30" lengthAdjust="spacingAndGlyphs">30</text>
<text x="83.28" y="801.40" font-size="39.3" font-family='"Liberation Serif", serif' font-weight="bold" fill="#000" textLength="39.30" lengthAdjust="spacingAndGlyphs">40</text>
<text x="401.04" y="1376.10" font-size="40" font-family='"Liberation Serif", serif' font-weight="bold" fill="#000" textLength="65.20" lengthAdjust="spacingAndGlyphs">Tim</text>
<text x="470.55" y="1376.10" font-size="40" font-family='"Liberation Serif", serif' font-weight="bold" fill="#000" textLength="16.86" lengthAdjust="spacingAndGlyphs">e</text>
<text x="497.24" y="1376.10" font-size="40" font-family='"Liberation Serif", serif' font-weight="bold" fill="#000" textLength="62.88" lengthAdjust="spacingAndGlyphs">(ns)</text>
<g transform="translate(47.00,1329.50) rotate(-90)">
<text x="-0.19" y="0.00" font-size="41.5" font-family='"Liberation Serif", serif' font-weight="bold" fill="#000" textLength="375.79" lengthAdjust="spacingAndGlyphs">Maximum Strength |B</text>
<text x="376.17" y="7.40" font-size="34.0" font-family='"Liberation Serif", serif' font-weight="bold" fill="#000" textLength="16.67" lengthAdjust="spacingAndGlyphs">*</text>
<text x="394.50" y="0.00" font-size="41.5" font-family='"Liberation Serif", serif' font-weight="bold" fill="#000" textLength="8.81" lengthAdjust="spacingAndGlyphs">|</text>
<text x="406.77" y="11.80" font-size="44.0" font-family='"Liberation Serif", serif' font-weight="bold" fill="#000" textLength="68.35" lengthAdjust="spacingAndGlyphs">max</text>
<text x="485.43" y="0.00" font-size="41.5" font-family='"Liberation Serif", serif' font-weight="bold" fill="#000" textLength="74.56" lengthAdjust="spacingAndGlyphs">(×10</text>
<text x="561.33" y="-13.80" font-size="40.5" font-family='"Liberation Serif", serif' font-weight="bold" fill="#000" textLength="18.74" lengthAdjust="spacingAndGlyphs">4</text>
<text x="590.55" y="0.00" font-size="41.5" font-family='"Liberation Serif", serif' font-weight="bold" fill="#000" textLength="43.13" lengthAdjust="spacingAndGlyphs">G)</text>
</g>
<text x="719.11" y="810.80" font-size="54" font-family='"Liberation Serif", serif' font-weight="bold" fill="#000" textLength="63.46" lengthAdjust="spacingAndGlyphs">(c)</text>
<line x1="446.7" y1="866.0" x2="520.0" y2="866.0" stroke="#0a0a0a" stroke-width="3"/>
<text x="525.88" y="877.30" font-size="32.3" font-family='"Liberation Serif", serif' font-weight="normal" fill="#000" textLength="187.00" lengthAdjust="spacingAndGlyphs">y-1000 Gauss:</text>
<text x="718.70" y="877.30" font-size="32.3" font-family='"Liberation Serif", serif' font-weight="normal" fill="#000" textLength="7.61" lengthAdjust="spacingAndGlyphs">|</text>
<text x="726.28" y="877.30" font-size="32.3" font-family='"Liberation Serif", serif' font-weight="normal" fill="#000" textLength="21.75" lengthAdjust="spacingAndGlyphs">B</text>
<text x="748.00" y="890.00" font-size="20.8" font-family='"Liberation Serif", serif' font-weight="normal" fill="#000" textLength="9.79" lengthAdjust="spacingAndGlyphs" stroke="#000" stroke-width="0.35">x</text>
<text x="756.10" y="877.30" font-size="32.3" font-family='"Liberation Serif", serif' font-weight="normal" fill="#000" textLength="7.61" lengthAdjust="spacingAndGlyphs">|</text>
<text x="763.41" y="890.00" font-size="20.8" font-family='"Liberation Serif", serif' font-weight="normal" fill="#000" textLength="33.62" lengthAdjust="spacingAndGlyphs" stroke="#000" stroke-width="0.35">max</text>
<line x1="446.7" y1="916.9" x2="520.0" y2="916.9" stroke="#e4322f" stroke-width="3"/>
<text x="525.88" y="927.40" font-size="32.3" font-family='"Liberation Serif", serif' font-weight="normal" fill="#000" textLength="187.00" lengthAdjust="spacingAndGlyphs">y-1000 Gauss:</text>
<text x="718.70" y="927.40" font-size="32.3" font-family='"Liberation Serif", serif' font-weight="normal" fill="#000" textLength="7.61" lengthAdjust="spacingAndGlyphs">|</text>
<text x="726.28" y="927.40" font-size="32.3" font-family='"Liberation Serif", serif' font-weight="normal" fill="#000" textLength="21.75" lengthAdjust="spacingAndGlyphs">B</text>
<text x="747.72" y="940.10" font-size="20.8" font-family='"Liberation Serif", serif' font-weight="normal" fill="#000" textLength="9.18" lengthAdjust="spacingAndGlyphs" stroke="#000" stroke-width="0.35">y</text>
<text x="756.10" y="927.40" font-size="32.3" font-family='"Liberation Serif", serif' font-weight="normal" fill="#000" textLength="7.61" lengthAdjust="spacingAndGlyphs">|</text>
<text x="763.41" y="940.10" font-size="20.8" font-family='"Liberation Serif", serif' font-weight="normal" fill="#000" textLength="33.62" lengthAdjust="spacingAndGlyphs" stroke="#000" stroke-width="0.35">max</text>
<line x1="446.7" y1="967.8" x2="520.0" y2="967.8" stroke="#69b047" stroke-width="3"/>
<text x="525.88" y="978.20" font-size="32.3" font-family='"Liberation Serif", serif' font-weight="normal" fill="#000" textLength="187.00" lengthAdjust="spacingAndGlyphs">y-1000 Gauss:</text>
<text x="718.70" y="978.20" font-size="32.3" font-family='"Liberation Serif", serif' font-weight="normal" fill="#000" textLength="7.61" lengthAdjust="spacingAndGlyphs">|</text>
<text x="726.28" y="978.20" font-size="32.3" font-family='"Liberation Serif", serif' font-weight="normal" fill="#000" textLength="21.75" lengthAdjust="spacingAndGlyphs">B</text>
<text x="747.83" y="990.90" font-size="20.8" font-family='"Liberation Serif", serif' font-weight="normal" fill="#000" textLength="8.43" lengthAdjust="spacingAndGlyphs" stroke="#000" stroke-width="0.35">z</text>
<text x="756.10" y="978.20" font-size="32.3" font-family='"Liberation Serif", serif' font-weight="normal" fill="#000" textLength="7.61" lengthAdjust="spacingAndGlyphs">|</text>
<text x="763.41" y="990.90" font-size="20.8" font-family='"Liberation Serif", serif' font-weight="normal" fill="#000" textLength="33.62" lengthAdjust="spacingAndGlyphs" stroke="#000" stroke-width="0.35">max</text>
<line x1="446.7" y1="1017.4" x2="520.0" y2="1017.4" stroke="#ec8336" stroke-width="3"/>
<text x="525.88" y="1028.30" font-size="32.3" font-family='"Liberation Serif", serif' font-weight="normal" fill="#000" textLength="187.00" lengthAdjust="spacingAndGlyphs">y-1000 Gauss:</text>
<text x="718.70" y="1028.30" font-size="32.3" font-family='"Liberation Serif", serif' font-weight="normal" fill="#000" textLength="7.61" lengthAdjust="spacingAndGlyphs">|</text>
<text x="726.28" y="1028.30" font-size="32.3" font-family='"Liberation Serif", serif' font-weight="normal" fill="#000" textLength="21.75" lengthAdjust="spacingAndGlyphs">B</text>
<text x="746.60" y="1028.30" font-size="32.3" font-family='"Liberation Serif", serif' font-weight="normal" fill="#000" textLength="7.61" lengthAdjust="spacingAndGlyphs">|</text>
<text x="754.11" y="1041.00" font-size="20.8" font-family='"Liberation Serif", serif' font-weight="normal" fill="#000" textLength="33.21" lengthAdjust="spacingAndGlyphs" stroke="#000" stroke-width="0.35">max</text>
</g>
<g id="panel-d">
<path d="M1008.10,757.30H1715.70V1277.70" fill="none" stroke="#0a0a0a" stroke-width="2.15" stroke-linejoin="round" stroke-linecap="square"/>
<path d="M1008.10,757.30V1277.70H1715.70" fill="none" stroke="#0a0a0a" stroke-width="2.4" stroke-linejoin="round" stroke-linecap="square"/>
<path d="M1057.50,1277.70v-11.5M1158.67,1277.70v-11.5M1259.85,1277.70v-11.5M1361.03,1277.70v-11.5M1462.20,1277.70v-11.5M1563.38,1277.70v-11.5M1664.55,1277.70v-11.5M1108.09,1277.70v-6.3M1209.26,1277.70v-6.3M1310.44,1277.70v-6.3M1411.61,1277.70v-6.3M1512.79,1277.70v-6.3M1613.96,1277.70v-6.3M1008.10,1246.80h11.5M1008.10,1124.60h11.5M1008.10,1002.40h11.5M1008.10,880.20h11.5M1008.10,1185.70h6.3M1008.10,1063.50h6.3M1008.10,941.30h6.3M1008.10,819.10h6.3" fill="none" stroke="#0a0a0a" stroke-width="2.3"/>
<path d="M1058.1,1246.3L1078.3,1243.6L1098.6,1241.4L1118.8,1239.2L1139.0,1238.0L1159.3,1236.7L1179.5,1235.3L1199.7,1234.3L1220.0,1234.3L1240.2,1234.3C1240.2,1234.3 1253.7,1234.4 1260.4,1234.3C1267.2,1234.3 1273.9,1234.3 1280.7,1234.2C1287.4,1234.1 1294.2,1233.9 1300.9,1233.7C1307.7,1233.5 1314.4,1233.0 1321.2,1232.9C1327.9,1232.7 1334.6,1233.0 1341.4,1232.9C1348.1,1232.7 1354.9,1232.2 1361.6,1232.1C1368.4,1232.1 1375.1,1232.6 1381.9,1232.5C1388.6,1232.4 1395.3,1231.4 1402.1,1231.3C1408.8,1231.2 1415.6,1231.9 1422.3,1231.9C1429.1,1231.9 1435.8,1231.5 1442.6,1231.4C1449.3,1231.3 1456.1,1231.1 1462.8,1231.3C1469.5,1231.5 1476.3,1232.3 1483.0,1232.5C1489.8,1232.7 1496.5,1232.6 1503.3,1232.5C1510.0,1232.4 1516.8,1232.3 1523.5,1231.9C1530.2,1231.4 1537.0,1230.4 1543.7,1229.8C1550.5,1229.2 1557.2,1228.6 1564.0,1228.1C1570.7,1227.7 1577.5,1227.3 1584.2,1227.1C1591.0,1227.0 1597.7,1227.4 1604.4,1227.1C1611.2,1226.9 1617.9,1226.0 1624.7,1225.7C1631.4,1225.3 1638.2,1225.3 1644.9,1225.1C1651.7,1224.8 1661.8,1224.3 1665.1,1224.2" fill="none" stroke="#0a0a0a" stroke-width="3.1" stroke-linejoin="miter" stroke-miterlimit="6" stroke-linecap="butt"/>
<path d="M1058.1,1247.5L1078.3,1247.5L1098.6,1246.9L1118.8,1245.4L1139.0,1244.5L1159.3,1243.5L1179.5,1242.6L1199.7,1242.1L1220.0,1241.2L1240.2,1241.2C1240.2,1241.2 1253.7,1241.6 1260.4,1241.2C1267.2,1240.7 1273.9,1239.1 1280.7,1238.6C1287.4,1238.1 1294.2,1238.1 1300.9,1238.0C1307.7,1237.9 1314.4,1237.8 1321.2,1238.0C1327.9,1238.2 1334.6,1239.1 1341.4,1239.0C1348.1,1238.9 1354.9,1237.7 1361.6,1237.5C1368.4,1237.3 1375.1,1237.4 1381.9,1237.6C1388.6,1237.9 1395.3,1238.9 1402.1,1239.0C1408.8,1239.1 1415.6,1238.5 1422.3,1238.4C1429.1,1238.2 1435.8,1238.2 1442.6,1238.1C1449.3,1238.1 1456.1,1238.0 1462.8,1238.0C1469.5,1238.0 1476.3,1238.2 1483.0,1238.0C1489.8,1237.8 1496.5,1237.5 1503.3,1237.0C1510.0,1236.6 1516.8,1235.7 1523.5,1235.3C1530.2,1234.9 1537.0,1234.9 1543.7,1234.6C1550.5,1234.3 1557.2,1233.8 1564.0,1233.5C1570.7,1233.2 1577.5,1233.0 1584.2,1232.9C1591.0,1232.7 1597.7,1232.7 1604.4,1232.5C1611.2,1232.3 1617.9,1232.2 1624.7,1231.9C1631.4,1231.6 1638.2,1231.0 1644.9,1230.8C1651.7,1230.5 1661.8,1230.5 1665.1,1230.4" fill="none" stroke="#e4322f" stroke-width="2.9" stroke-linejoin="miter" stroke-miterlimit="6" stroke-linecap="butt"/>
<path d="M1058.1,1187.1L1078.3,866.6L1098.6,818.9L1118.8,941.0L1139.0,1135.2L1159.3,1182.8L1179.5,1185.6L1199.7,1181.6L1220.0,1181.8L1240.2,1190.5C1240.2,1190.5 1253.7,1195.6 1260.4,1197.5C1267.2,1199.4 1273.9,1200.7 1280.7,1201.9C1287.4,1203.0 1294.2,1203.7 1300.9,1204.2C1307.7,1204.6 1314.4,1204.4 1321.2,1204.7C1327.9,1204.9 1334.6,1205.5 1341.4,1205.6C1348.1,1205.8 1354.9,1205.6 1361.6,1205.6C1368.4,1205.7 1375.1,1205.7 1381.9,1205.8C1388.6,1205.8 1395.3,1205.6 1402.1,1205.8C1408.8,1205.9 1415.6,1206.6 1422.3,1206.6C1429.1,1206.7 1435.8,1206.1 1442.6,1206.0C1449.3,1205.9 1459.4,1206.1 1462.8,1206.1" fill="none" stroke="#69b047" stroke-width="2.9" stroke-linejoin="miter" stroke-miterlimit="6" stroke-linecap="butt" stroke-dasharray="3 12.6"/>
<path d="M1058.1,1187.1L1078.3,866.6L1098.6,818.9L1118.8,941.0L1139.0,1125.4L1159.3,1175.7L1179.5,1181.6L1199.7,1179.8L1220.0,1179.1L1240.2,1184.6C1240.2,1184.6 1253.7,1186.9 1260.4,1187.7C1267.2,1188.5 1273.9,1188.8 1280.7,1189.4C1287.4,1190.0 1294.2,1190.6 1300.9,1191.4C1307.7,1192.1 1314.4,1193.1 1321.2,1193.8C1327.9,1194.5 1334.6,1195.1 1341.4,1195.6C1348.1,1196.2 1354.9,1196.5 1361.6,1197.1C1368.4,1197.7 1375.1,1198.7 1381.9,1199.4C1388.6,1200.1 1395.3,1200.5 1402.1,1201.1C1408.8,1201.7 1415.6,1202.4 1422.3,1203.1C1429.1,1203.7 1435.8,1204.6 1442.6,1205.2C1449.3,1205.7 1456.1,1205.8 1462.8,1206.1C1469.5,1206.5 1476.3,1206.9 1483.0,1207.2C1489.8,1207.6 1496.5,1207.8 1503.3,1208.2C1510.0,1208.6 1516.8,1209.2 1523.5,1209.7C1530.2,1210.2 1537.0,1211.0 1543.7,1211.3C1550.5,1211.6 1557.2,1211.4 1564.0,1211.5C1570.7,1211.6 1577.5,1211.6 1584.2,1211.9C1591.0,1212.1 1597.7,1212.7 1604.4,1213.1C1611.2,1213.5 1617.9,1213.9 1624.7,1214.4C1631.4,1215.0 1638.2,1215.9 1644.9,1216.4C1651.7,1216.9 1661.8,1217.3 1665.1,1217.5" fill="none" stroke="#69b047" stroke-width="2.9" stroke-linejoin="miter" stroke-miterlimit="6" stroke-linecap="butt"/>
<path d="M1058.1,1187.1L1078.3,866.6L1098.6,818.9L1118.8,941.0L1139.0,1125.4L1159.3,1183.5L1179.5,1179.6L1199.7,1176.7L1220.0,1176.3L1240.2,1182.8C1240.2,1182.8 1253.7,1186.2 1260.4,1187.1C1267.2,1187.9 1273.9,1187.5 1280.7,1187.9C1287.4,1188.4 1294.2,1189.2 1300.9,1189.9C1307.7,1190.6 1314.4,1191.5 1321.2,1192.1C1327.9,1192.7 1334.6,1193.0 1341.4,1193.4C1348.1,1193.9 1354.9,1194.2 1361.6,1194.8C1368.4,1195.4 1375.1,1196.4 1381.9,1197.0C1388.6,1197.5 1395.3,1197.7 1402.1,1198.1C1408.8,1198.4 1415.6,1198.6 1422.3,1199.0C1429.1,1199.5 1435.8,1200.1 1442.6,1200.5C1449.3,1201.0 1456.1,1201.4 1462.8,1201.7C1469.5,1202.1 1476.3,1202.4 1483.0,1202.7C1489.8,1203.0 1496.5,1203.4 1503.3,1203.6C1510.0,1203.8 1516.8,1203.8 1523.5,1203.9C1530.2,1204.0 1537.0,1204.1 1543.7,1204.2C1550.5,1204.2 1557.2,1204.2 1564.0,1204.2C1570.7,1204.2 1577.5,1204.2 1584.2,1204.2C1591.0,1204.2 1597.7,1204.2 1604.4,1204.3C1611.2,1204.4 1617.9,1204.3 1624.7,1204.5C1631.4,1204.8 1638.2,1205.4 1644.9,1205.6C1651.7,1205.8 1661.8,1205.7 1665.1,1205.8" fill="none" stroke="#ec8336" stroke-width="2.9" stroke-linejoin="miter" stroke-miterlimit="6" stroke-linecap="butt"/>
<text x="1048.08" y="1319.50" font-size="40.086" font-family='"Liberation Serif", serif' font-weight="bold" fill="#000" textLength="20.44" lengthAdjust="spacingAndGlyphs">0</text>
<text x="1149.15" y="1319.50" font-size="40.086" font-family='"Liberation Serif", serif' font-weight="bold" fill="#000" textLength="20.44" lengthAdjust="spacingAndGlyphs">5</text>
<text x="1239.29" y="1319.50" font-size="40.086" font-family='"Liberation Serif", serif' font-weight="bold" fill="#000" textLength="40.89" lengthAdjust="spacingAndGlyphs">10</text>
<text x="1340.46" y="1319.50" font-size="40.086" font-family='"Liberation Serif", serif' font-weight="bold" fill="#000" textLength="40.89" lengthAdjust="spacingAndGlyphs">15</text>
<text x="1442.45" y="1319.50" font-size="40.086" font-family='"Liberation Serif", serif' font-weight="bold" fill="#000" textLength="40.89" lengthAdjust="spacingAndGlyphs">20</text>
<text x="1543.63" y="1319.50" font-size="40.086" font-family='"Liberation Serif", serif' font-weight="bold" fill="#000" textLength="40.89" lengthAdjust="spacingAndGlyphs">25</text>
<text x="1644.91" y="1319.50" font-size="40.086" font-family='"Liberation Serif", serif' font-weight="bold" fill="#000" textLength="40.89" lengthAdjust="spacingAndGlyphs">30</text>
<text x="975.36" y="1258.40" font-size="40.086" font-family='"Liberation Serif", serif' font-weight="bold" fill="#000" textLength="20.04" lengthAdjust="spacingAndGlyphs">0</text>
<text x="955.32" y="1136.20" font-size="40.086" font-family='"Liberation Serif", serif' font-weight="bold" fill="#000" textLength="40.09" lengthAdjust="spacingAndGlyphs">10</text>
<text x="955.32" y="1014.00" font-size="40.086" font-family='"Liberation Serif", serif' font-weight="bold" fill="#000" textLength="40.09" lengthAdjust="spacingAndGlyphs">20</text>
<text x="955.32" y="891.80" font-size="40.086" font-family='"Liberation Serif", serif' font-weight="bold" fill="#000" textLength="40.09" lengthAdjust="spacingAndGlyphs">30</text>
<text x="955.32" y="769.60" font-size="40.086" font-family='"Liberation Serif", serif' font-weight="bold" fill="#000" textLength="40.09" lengthAdjust="spacingAndGlyphs">40</text>
<text x="1289.13" y="1373.10" font-size="40.8" font-family='"Liberation Serif", serif' font-weight="bold" fill="#000" textLength="66.70" lengthAdjust="spacingAndGlyphs">Tim</text>
<text x="1360.23" y="1373.10" font-size="40.8" font-family='"Liberation Serif", serif' font-weight="bold" fill="#000" textLength="17.24" lengthAdjust="spacingAndGlyphs">e</text>
<text x="1387.53" y="1373.10" font-size="40.8" font-family='"Liberation Serif", serif' font-weight="bold" fill="#000" textLength="64.32" lengthAdjust="spacingAndGlyphs">(ns)</text>
<g transform="translate(913.05,1336.50) rotate(-90)">
<text x="-0.19" y="0.00" font-size="42.33" font-family='"Liberation Serif", serif' font-weight="bold" fill="#000" textLength="383.31" lengthAdjust="spacingAndGlyphs">Maximum Strength |B</text>
<text x="383.69" y="7.55" font-size="34.68" font-family='"Liberation Serif", serif' font-weight="bold" fill="#000" textLength="17.00" lengthAdjust="spacingAndGlyphs">*</text>
<text x="402.39" y="0.00" font-size="42.33" font-family='"Liberation Serif", serif' font-weight="bold" fill="#000" textLength="8.99" lengthAdjust="spacingAndGlyphs">|</text>
<text x="414.90" y="12.04" font-size="44.88" font-family='"Liberation Serif", serif' font-weight="bold" fill="#000" textLength="69.71" lengthAdjust="spacingAndGlyphs">max</text>
<text x="495.14" y="0.00" font-size="42.33" font-family='"Liberation Serif", serif' font-weight="bold" fill="#000" textLength="76.05" lengthAdjust="spacingAndGlyphs">(×10</text>
<text x="572.55" y="-14.08" font-size="41.31" font-family='"Liberation Serif", serif' font-weight="bold" fill="#000" textLength="19.11" lengthAdjust="spacingAndGlyphs">4</text>
<text x="602.36" y="0.00" font-size="42.33" font-family='"Liberation Serif", serif' font-weight="bold" fill="#000" textLength="44.00" lengthAdjust="spacingAndGlyphs">G)</text>
</g>
<text x="1592.77" y="811.00" font-size="54" font-family='"Liberation Serif", serif' font-weight="bold" fill="#000" textLength="64.97" lengthAdjust="spacingAndGlyphs">(d)</text>
<line x1="1292.1" y1="861.6" x2="1366.4" y2="861.6" stroke="#0a0a0a" stroke-width="3"/>
<text x="1374.43" y="872.50" font-size="32.946" font-family='"Liberation Serif", serif' font-weight="normal" fill="#000" textLength="242.61" lengthAdjust="spacingAndGlyphs">flat-x-1000 Gauss:</text>
<text x="1623.22" y="872.50" font-size="32.946" font-family='"Liberation Serif", serif' font-weight="normal" fill="#000" textLength="7.61" lengthAdjust="spacingAndGlyphs">|</text>
<text x="1630.88" y="872.50" font-size="32.946" font-family='"Liberation Serif", serif' font-weight="normal" fill="#000" textLength="22.18" lengthAdjust="spacingAndGlyphs">B</text>
<text x="1653.03" y="885.45" font-size="21.216" font-family='"Liberation Serif", serif' font-weight="normal" fill="#000" textLength="9.99" lengthAdjust="spacingAndGlyphs" stroke="#000" stroke-width="0.35">x</text>
<text x="1661.37" y="872.50" font-size="32.946" font-family='"Liberation Serif", serif' font-weight="normal" fill="#000" textLength="7.61" lengthAdjust="spacingAndGlyphs">|</text>
<text x="1668.75" y="885.45" font-size="21.216" font-family='"Liberation Serif", serif' font-weight="normal" fill="#000" textLength="34.29" lengthAdjust="spacingAndGlyphs" stroke="#000" stroke-width="0.35">max</text>
<line x1="1292.1" y1="912.7" x2="1366.4" y2="912.7" stroke="#e4322f" stroke-width="3"/>
<text x="1374.43" y="924.10" font-size="32.946" font-family='"Liberation Serif", serif' font-weight="normal" fill="#000" textLength="242.61" lengthAdjust="spacingAndGlyphs">flat-x-1000 Gauss:</text>
<text x="1623.22" y="924.10" font-size="32.946" font-family='"Liberation Serif", serif' font-weight="normal" fill="#000" textLength="7.61" lengthAdjust="spacingAndGlyphs">|</text>
<text x="1630.88" y="924.10" font-size="32.946" font-family='"Liberation Serif", serif' font-weight="normal" fill="#000" textLength="22.18" lengthAdjust="spacingAndGlyphs">B</text>
<text x="1652.74" y="937.05" font-size="21.216" font-family='"Liberation Serif", serif' font-weight="normal" fill="#000" textLength="9.37" lengthAdjust="spacingAndGlyphs" stroke="#000" stroke-width="0.35">y</text>
<text x="1661.37" y="924.10" font-size="32.946" font-family='"Liberation Serif", serif' font-weight="normal" fill="#000" textLength="7.61" lengthAdjust="spacingAndGlyphs">|</text>
<text x="1668.75" y="937.05" font-size="21.216" font-family='"Liberation Serif", serif' font-weight="normal" fill="#000" textLength="34.29" lengthAdjust="spacingAndGlyphs" stroke="#000" stroke-width="0.35">max</text>
<line x1="1292.7" y1="964.1" x2="1359.0" y2="964.1" stroke="#69b047" stroke-width="3" stroke-dasharray="3 12.6"/>
<text x="1374.42" y="975.30" font-size="32.946" font-family='"Liberation Serif", serif' font-weight="normal" fill="#000" textLength="167.08" lengthAdjust="spacingAndGlyphs">flat-0 Gauss:</text>
<text x="1547.62" y="975.30" font-size="32.946" font-family='"Liberation Serif", serif' font-weight="normal" fill="#000" textLength="7.61" lengthAdjust="spacingAndGlyphs">|</text>
<text x="1555.28" y="975.30" font-size="32.946" font-family='"Liberation Serif", serif' font-weight="normal" fill="#000" textLength="22.18" lengthAdjust="spacingAndGlyphs">B</text>
<text x="1577.25" y="988.25" font-size="21.216" font-family='"Liberation Serif", serif' font-weight="normal" fill="#000" textLength="8.60" lengthAdjust="spacingAndGlyphs" stroke="#000" stroke-width="0.35">z</text>
<text x="1585.77" y="975.30" font-size="32.946" font-family='"Liberation Serif", serif' font-weight="normal" fill="#000" textLength="7.61" lengthAdjust="spacingAndGlyphs">|</text>
<text x="1593.15" y="988.25" font-size="21.216" font-family='"Liberation Serif", serif' font-weight="normal" fill="#000" textLength="34.29" lengthAdjust="spacingAndGlyphs" stroke="#000" stroke-width="0.35">max</text>
<line x1="1292.1" y1="1015.2" x2="1366.4" y2="1015.2" stroke="#69b047" stroke-width="3"/>
<text x="1374.43" y="1026.30" font-size="32.946" font-family='"Liberation Serif", serif' font-weight="normal" fill="#000" textLength="242.61" lengthAdjust="spacingAndGlyphs">flat-x-1000 Gauss:</text>
<text x="1623.22" y="1026.30" font-size="32.946" font-family='"Liberation Serif", serif' font-weight="normal" fill="#000" textLength="7.61" lengthAdjust="spacingAndGlyphs">|</text>
<text x="1630.88" y="1026.30" font-size="32.946" font-family='"Liberation Serif", serif' font-weight="normal" fill="#000" textLength="22.18" lengthAdjust="spacingAndGlyphs">B</text>
<text x="1652.85" y="1039.25" font-size="21.216" font-family='"Liberation Serif", serif' font-weight="normal" fill="#000" textLength="8.60" lengthAdjust="spacingAndGlyphs" stroke="#000" stroke-width="0.35">z</text>
<text x="1661.37" y="1026.30" font-size="32.946" font-family='"Liberation Serif", serif' font-weight="normal" fill="#000" textLength="7.61" lengthAdjust="spacingAndGlyphs">|</text>
<text x="1668.75" y="1039.25" font-size="21.216" font-family='"Liberation Serif", serif' font-weight="normal" fill="#000" textLength="34.29" lengthAdjust="spacingAndGlyphs" stroke="#000" stroke-width="0.35">max</text>
<line x1="1292.1" y1="1066.0" x2="1366.4" y2="1066.0" stroke="#ec8336" stroke-width="3"/>
<text x="1374.43" y="1077.30" font-size="32.946" font-family='"Liberation Serif", serif' font-weight="normal" fill="#000" textLength="242.61" lengthAdjust="spacingAndGlyphs">flat-x-1000 Gauss:</text>
<text x="1623.22" y="1077.30" font-size="32.946" font-family='"Liberation Serif", serif' font-weight="normal" fill="#000" textLength="7.61" lengthAdjust="spacingAndGlyphs">|</text>
<text x="1630.88" y="1077.30" font-size="32.946" font-family='"Liberation Serif", serif' font-weight="normal" fill="#000" textLength="22.18" lengthAdjust="spacingAndGlyphs">B</text>
<text x="1651.68" y="1077.30" font-size="32.946" font-family='"Liberation Serif", serif' font-weight="normal" fill="#000" textLength="7.61" lengthAdjust="spacingAndGlyphs">|</text>
<text x="1659.27" y="1090.25" font-size="21.216" font-family='"Liberation Serif", serif' font-weight="normal" fill="#000" textLength="33.87" lengthAdjust="spacingAndGlyphs" stroke="#000" stroke-width="0.35">max</text>
</g>
</svg>
</body></html>
